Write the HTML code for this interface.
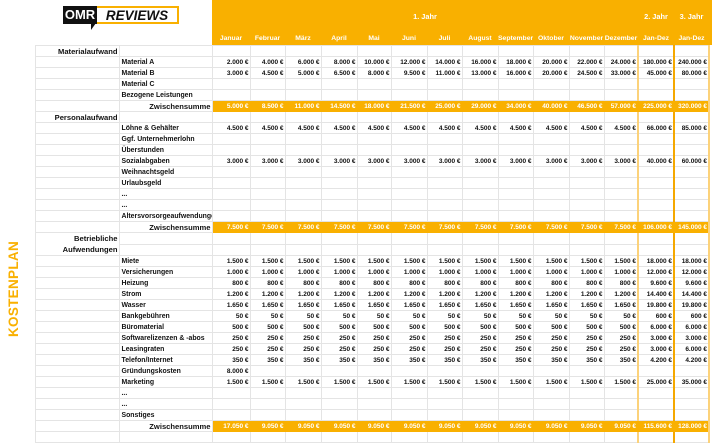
<!DOCTYPE html>
<html><head><meta charset="utf-8"><style>
*{margin:0;padding:0;box-sizing:border-box}
body{width:712px;height:432px;overflow:hidden;background:#fff;position:relative;font-family:"Liberation Sans",sans-serif;}
.hdr{position:absolute;left:212px;top:0;width:500px;height:45px;background:#f9b000;}
.hdr div{position:absolute;color:#fff;font-weight:bold;font-size:6.8px;text-align:center}
table{position:absolute;left:0;top:45px;border-collapse:collapse;table-layout:fixed;width:712px}
td{height:11px;border:1px solid #e4e4e4;font-size:6.5px;font-weight:bold;white-space:nowrap;overflow:hidden;padding:0 1px 0 0;line-height:9px;text-align:right;color:#111}
td.c0{border:none;border-right:1px solid #e4e4e4}
td.l{text-align:left;font-size:6.9px;padding-left:2px}
tr.z td.n{background:#f9b000;color:#fff;border-color:#f9b000}
td.y2{border-left:2px solid #fcd27a}
td.y3{border-left:2px solid #f5a800}
td.e{border:none;border-left:2px solid #fcd27a;padding:0}
td.zl{font-size:7.6px;padding-right:1px}
.vt{position:absolute;left:14px;top:289px;width:120px;height:16px;margin-left:-60px;margin-top:-8px;transform:rotate(-90deg);color:#f9b000;font-size:13.5px;font-weight:bold;text-align:center;line-height:16px;letter-spacing:0.3px}
</style></head><body>
<div style="position:absolute;left:63px;top:6px;width:34px;height:18px;background:#111;color:#fff;font-weight:bold;font-size:13px;line-height:18px;text-align:center">OMR</div>
<div style="position:absolute;left:91px;top:23px;width:0;height:0;border-left:5px solid #111;border-bottom:7px solid transparent"></div>
<div style="position:absolute;left:97px;top:6px;width:82px;height:18px;border:2px solid #f9b000;border-left:none;background:#fff;color:#111;font-weight:bold;font-style:italic;font-size:13.5px;line-height:15px;text-align:center">REVIEWS</div>
<div class="vt">KOSTENPLAN</div>
<div class="hdr">
<div style="left:0;width:426px;top:12px;font-size:7.4px">1. Jahr</div>
<div style="left:426px;width:36px;top:12px;font-size:7.4px">2. Jahr</div>
<div style="left:462px;width:35px;top:12px;font-size:7.4px">3. Jahr</div>
<div style="left:0;width:38px;top:35px">Januar</div>
<div style="left:38px;width:35px;top:35px">Februar</div>
<div style="left:73px;width:36px;top:35px">März</div>
<div style="left:109px;width:36px;top:35px">April</div>
<div style="left:145px;width:34px;top:35px">Mai</div>
<div style="left:179px;width:36px;top:35px">Juni</div>
<div style="left:215px;width:35px;top:35px">Juli</div>
<div style="left:250px;width:36px;top:35px">August</div>
<div style="left:286px;width:35px;top:35px">September</div>
<div style="left:321px;width:36px;top:35px">Oktober</div>
<div style="left:357px;width:35px;top:35px">November</div>
<div style="left:392px;width:34px;top:35px">Dezember</div>
<div style="left:426px;width:36px;top:35px">Jan-Dez</div>
<div style="left:462px;width:35px;top:35px">Jan-Dez</div>
</div>
<table>
<colgroup><col style="width:35px"><col style="width:84px"><col style="width:93px"><col style="width:38px"><col style="width:35px"><col style="width:36px"><col style="width:36px"><col style="width:34px"><col style="width:36px"><col style="width:35px"><col style="width:36px"><col style="width:35px"><col style="width:36px"><col style="width:35px"><col style="width:34px"><col style="width:36px"><col style="width:35px"><col style="width:3px"></colgroup>
<tr><td class="c0"></td><td class="zl">Materialaufwand</td><td class="l"></td><td></td><td></td><td></td><td></td><td></td><td></td><td></td><td></td><td></td><td></td><td></td><td></td><td class="y2"></td><td class="y3"></td><td class="e"></td></tr>
<tr><td class="c0"></td><td></td><td class="l">Material A</td><td>2.000 €</td><td>4.000 €</td><td>6.000 €</td><td>8.000 €</td><td>10.000 €</td><td>12.000 €</td><td>14.000 €</td><td>16.000 €</td><td>18.000 €</td><td>20.000 €</td><td>22.000 €</td><td>24.000 €</td><td class="y2">180.000 €</td><td class="y3">240.000 €</td><td class="e"></td></tr>
<tr><td class="c0"></td><td></td><td class="l">Material B</td><td>3.000 €</td><td>4.500 €</td><td>5.000 €</td><td>6.500 €</td><td>8.000 €</td><td>9.500 €</td><td>11.000 €</td><td>13.000 €</td><td>16.000 €</td><td>20.000 €</td><td>24.500 €</td><td>33.000 €</td><td class="y2">45.000 €</td><td class="y3">80.000 €</td><td class="e"></td></tr>
<tr><td class="c0"></td><td></td><td class="l">Material C</td><td></td><td></td><td></td><td></td><td></td><td></td><td></td><td></td><td></td><td></td><td></td><td></td><td class="y2"></td><td class="y3"></td><td class="e"></td></tr>
<tr><td class="c0"></td><td></td><td class="l">Bezogene Leistungen</td><td></td><td></td><td></td><td></td><td></td><td></td><td></td><td></td><td></td><td></td><td></td><td></td><td class="y2"></td><td class="y3"></td><td class="e"></td></tr>
<tr class="z"><td class="c0"></td><td></td><td class="zl">Zwischensumme</td><td class="n">5.000 €</td><td class="n">8.500 €</td><td class="n">11.000 €</td><td class="n">14.500 €</td><td class="n">18.000 €</td><td class="n">21.500 €</td><td class="n">25.000 €</td><td class="n">29.000 €</td><td class="n">34.000 €</td><td class="n">40.000 €</td><td class="n">46.500 €</td><td class="n">57.000 €</td><td class="n y2">225.000 €</td><td class="n y3">320.000 €</td><td class="e"></td></tr>
<tr><td class="c0"></td><td class="zl">Personalaufwand</td><td class="l"></td><td></td><td></td><td></td><td></td><td></td><td></td><td></td><td></td><td></td><td></td><td></td><td></td><td class="y2"></td><td class="y3"></td><td class="e"></td></tr>
<tr><td class="c0"></td><td></td><td class="l">Löhne &amp; Gehälter</td><td>4.500 €</td><td>4.500 €</td><td>4.500 €</td><td>4.500 €</td><td>4.500 €</td><td>4.500 €</td><td>4.500 €</td><td>4.500 €</td><td>4.500 €</td><td>4.500 €</td><td>4.500 €</td><td>4.500 €</td><td class="y2">66.000 €</td><td class="y3">85.000 €</td><td class="e"></td></tr>
<tr><td class="c0"></td><td></td><td class="l">Ggf. Unternehmerlohn</td><td></td><td></td><td></td><td></td><td></td><td></td><td></td><td></td><td></td><td></td><td></td><td></td><td class="y2"></td><td class="y3"></td><td class="e"></td></tr>
<tr><td class="c0"></td><td></td><td class="l">Überstunden</td><td></td><td></td><td></td><td></td><td></td><td></td><td></td><td></td><td></td><td></td><td></td><td></td><td class="y2"></td><td class="y3"></td><td class="e"></td></tr>
<tr><td class="c0"></td><td></td><td class="l">Sozialabgaben</td><td>3.000 €</td><td>3.000 €</td><td>3.000 €</td><td>3.000 €</td><td>3.000 €</td><td>3.000 €</td><td>3.000 €</td><td>3.000 €</td><td>3.000 €</td><td>3.000 €</td><td>3.000 €</td><td>3.000 €</td><td class="y2">40.000 €</td><td class="y3">60.000 €</td><td class="e"></td></tr>
<tr><td class="c0"></td><td></td><td class="l">Weihnachtsgeld</td><td></td><td></td><td></td><td></td><td></td><td></td><td></td><td></td><td></td><td></td><td></td><td></td><td class="y2"></td><td class="y3"></td><td class="e"></td></tr>
<tr><td class="c0"></td><td></td><td class="l">Urlaubsgeld</td><td></td><td></td><td></td><td></td><td></td><td></td><td></td><td></td><td></td><td></td><td></td><td></td><td class="y2"></td><td class="y3"></td><td class="e"></td></tr>
<tr><td class="c0"></td><td></td><td class="l">...</td><td></td><td></td><td></td><td></td><td></td><td></td><td></td><td></td><td></td><td></td><td></td><td></td><td class="y2"></td><td class="y3"></td><td class="e"></td></tr>
<tr><td class="c0"></td><td></td><td class="l">...</td><td></td><td></td><td></td><td></td><td></td><td></td><td></td><td></td><td></td><td></td><td></td><td></td><td class="y2"></td><td class="y3"></td><td class="e"></td></tr>
<tr><td class="c0"></td><td></td><td class="l">Altersvorsorgeaufwendungen</td><td></td><td></td><td></td><td></td><td></td><td></td><td></td><td></td><td></td><td></td><td></td><td></td><td class="y2"></td><td class="y3"></td><td class="e"></td></tr>
<tr class="z"><td class="c0"></td><td></td><td class="zl">Zwischensumme</td><td class="n">7.500 €</td><td class="n">7.500 €</td><td class="n">7.500 €</td><td class="n">7.500 €</td><td class="n">7.500 €</td><td class="n">7.500 €</td><td class="n">7.500 €</td><td class="n">7.500 €</td><td class="n">7.500 €</td><td class="n">7.500 €</td><td class="n">7.500 €</td><td class="n">7.500 €</td><td class="n y2">106.000 €</td><td class="n y3">145.000 €</td><td class="e"></td></tr>
<tr><td class="c0"></td><td class="zl" rowspan="2" style="line-height:11px;white-space:normal">Betriebliche<br>Aufwendungen</td><td class="l"></td><td></td><td></td><td></td><td></td><td></td><td></td><td></td><td></td><td></td><td></td><td></td><td></td><td class="y2"></td><td class="y3"></td><td class="e"></td></tr>
<tr><td class="c0"></td><td class="l"></td><td></td><td></td><td></td><td></td><td></td><td></td><td></td><td></td><td></td><td></td><td></td><td></td><td class="y2"></td><td class="y3"></td><td class="e"></td></tr>
<tr><td class="c0"></td><td></td><td class="l">Miete</td><td>1.500 €</td><td>1.500 €</td><td>1.500 €</td><td>1.500 €</td><td>1.500 €</td><td>1.500 €</td><td>1.500 €</td><td>1.500 €</td><td>1.500 €</td><td>1.500 €</td><td>1.500 €</td><td>1.500 €</td><td class="y2">18.000 €</td><td class="y3">18.000 €</td><td class="e"></td></tr>
<tr><td class="c0"></td><td></td><td class="l">Versicherungen</td><td>1.000 €</td><td>1.000 €</td><td>1.000 €</td><td>1.000 €</td><td>1.000 €</td><td>1.000 €</td><td>1.000 €</td><td>1.000 €</td><td>1.000 €</td><td>1.000 €</td><td>1.000 €</td><td>1.000 €</td><td class="y2">12.000 €</td><td class="y3">12.000 €</td><td class="e"></td></tr>
<tr><td class="c0"></td><td></td><td class="l">Heizung</td><td>800 €</td><td>800 €</td><td>800 €</td><td>800 €</td><td>800 €</td><td>800 €</td><td>800 €</td><td>800 €</td><td>800 €</td><td>800 €</td><td>800 €</td><td>800 €</td><td class="y2">9.600 €</td><td class="y3">9.600 €</td><td class="e"></td></tr>
<tr><td class="c0"></td><td></td><td class="l">Strom</td><td>1.200 €</td><td>1.200 €</td><td>1.200 €</td><td>1.200 €</td><td>1.200 €</td><td>1.200 €</td><td>1.200 €</td><td>1.200 €</td><td>1.200 €</td><td>1.200 €</td><td>1.200 €</td><td>1.200 €</td><td class="y2">14.400 €</td><td class="y3">14.400 €</td><td class="e"></td></tr>
<tr><td class="c0"></td><td></td><td class="l">Wasser</td><td>1.650 €</td><td>1.650 €</td><td>1.650 €</td><td>1.650 €</td><td>1.650 €</td><td>1.650 €</td><td>1.650 €</td><td>1.650 €</td><td>1.650 €</td><td>1.650 €</td><td>1.650 €</td><td>1.650 €</td><td class="y2">19.800 €</td><td class="y3">19.800 €</td><td class="e"></td></tr>
<tr><td class="c0"></td><td></td><td class="l">Bankgebühren</td><td>50 €</td><td>50 €</td><td>50 €</td><td>50 €</td><td>50 €</td><td>50 €</td><td>50 €</td><td>50 €</td><td>50 €</td><td>50 €</td><td>50 €</td><td>50 €</td><td class="y2">600 €</td><td class="y3">600 €</td><td class="e"></td></tr>
<tr><td class="c0"></td><td></td><td class="l">Büromaterial</td><td>500 €</td><td>500 €</td><td>500 €</td><td>500 €</td><td>500 €</td><td>500 €</td><td>500 €</td><td>500 €</td><td>500 €</td><td>500 €</td><td>500 €</td><td>500 €</td><td class="y2">6.000 €</td><td class="y3">6.000 €</td><td class="e"></td></tr>
<tr><td class="c0"></td><td></td><td class="l">Softwarelizenzen &amp; -abos</td><td>250 €</td><td>250 €</td><td>250 €</td><td>250 €</td><td>250 €</td><td>250 €</td><td>250 €</td><td>250 €</td><td>250 €</td><td>250 €</td><td>250 €</td><td>250 €</td><td class="y2">3.000 €</td><td class="y3">3.000 €</td><td class="e"></td></tr>
<tr><td class="c0"></td><td></td><td class="l">Leasingraten</td><td>250 €</td><td>250 €</td><td>250 €</td><td>250 €</td><td>250 €</td><td>250 €</td><td>250 €</td><td>250 €</td><td>250 €</td><td>250 €</td><td>250 €</td><td>250 €</td><td class="y2">3.000 €</td><td class="y3">6.000 €</td><td class="e"></td></tr>
<tr><td class="c0"></td><td></td><td class="l">Telefon/Internet</td><td>350 €</td><td>350 €</td><td>350 €</td><td>350 €</td><td>350 €</td><td>350 €</td><td>350 €</td><td>350 €</td><td>350 €</td><td>350 €</td><td>350 €</td><td>350 €</td><td class="y2">4.200 €</td><td class="y3">4.200 €</td><td class="e"></td></tr>
<tr><td class="c0"></td><td></td><td class="l">Gründungskosten</td><td>8.000 €</td><td></td><td></td><td></td><td></td><td></td><td></td><td></td><td></td><td></td><td></td><td></td><td class="y2"></td><td class="y3"></td><td class="e"></td></tr>
<tr><td class="c0"></td><td></td><td class="l">Marketing</td><td>1.500 €</td><td>1.500 €</td><td>1.500 €</td><td>1.500 €</td><td>1.500 €</td><td>1.500 €</td><td>1.500 €</td><td>1.500 €</td><td>1.500 €</td><td>1.500 €</td><td>1.500 €</td><td>1.500 €</td><td class="y2">25.000 €</td><td class="y3">35.000 €</td><td class="e"></td></tr>
<tr><td class="c0"></td><td></td><td class="l">...</td><td></td><td></td><td></td><td></td><td></td><td></td><td></td><td></td><td></td><td></td><td></td><td></td><td class="y2"></td><td class="y3"></td><td class="e"></td></tr>
<tr><td class="c0"></td><td></td><td class="l">...</td><td></td><td></td><td></td><td></td><td></td><td></td><td></td><td></td><td></td><td></td><td></td><td></td><td class="y2"></td><td class="y3"></td><td class="e"></td></tr>
<tr><td class="c0"></td><td></td><td class="l">Sonstiges</td><td></td><td></td><td></td><td></td><td></td><td></td><td></td><td></td><td></td><td></td><td></td><td></td><td class="y2"></td><td class="y3"></td><td class="e"></td></tr>
<tr class="z"><td class="c0"></td><td></td><td class="zl">Zwischensumme</td><td class="n">17.050 €</td><td class="n">9.050 €</td><td class="n">9.050 €</td><td class="n">9.050 €</td><td class="n">9.050 €</td><td class="n">9.050 €</td><td class="n">9.050 €</td><td class="n">9.050 €</td><td class="n">9.050 €</td><td class="n">9.050 €</td><td class="n">9.050 €</td><td class="n">9.050 €</td><td class="n y2">115.600 €</td><td class="n y3">128.000 €</td><td class="e"></td></tr>
<tr><td class="c0"></td><td></td><td class="l"></td><td></td><td></td><td></td><td></td><td></td><td></td><td></td><td></td><td></td><td></td><td></td><td></td><td class="y2"></td><td class="y3"></td><td class="e"></td></tr>
</table>
</body></html>
